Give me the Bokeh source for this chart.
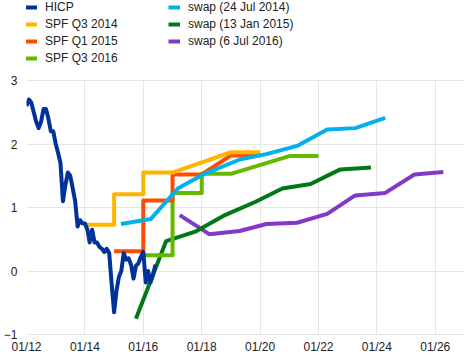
import pandas as pd
from bokeh.plotting import figure
from bokeh.models import Legend, LegendItem, FixedTicker, DatetimeTickFormatter, Range1d
from bokeh.embed import file_html
from bokeh.resources import INLINE

# ---------------- data ----------------
hicp_start = "2012-01-01"
hicp_values = [2.6, 2.7, 2.65, 2.5, 2.35, 2.25, 2.35, 2.55, 2.55, 2.4, 2.2, 2.2,
               2.0, 1.85, 1.7, 1.1, 1.35, 1.55, 1.5, 1.3, 1.1, 0.7, 0.8, 0.75,
               0.75, 0.65, 0.45, 0.65, 0.45, 0.45, 0.38, 0.35, 0.3, 0.35, 0.28, -0.2,
               -0.65, -0.3, -0.1, 0.0, 0.28, 0.18, 0.2, 0.1, -0.12, 0.08, 0.12, 0.22,
               0.3, -0.18, 0.0, -0.18, -0.06, 0.1]

spf_q3_2014_dates = ["2014-01-01", "2015-01-01", "2015-01-01", "2016-01-01",
                     "2016-01-01", "2017-01-01", "2019-01-01", "2020-01-01"]
spf_q3_2014_values = [0.73, 0.73, 1.21, 1.21, 1.55, 1.55, 1.87, 1.87]

spf_q1_2015_dates = ["2015-01-01", "2016-01-01", "2016-01-01", "2017-01-01",
                     "2017-01-01", "2018-01-01", "2019-01-01", "2020-01-01"]
spf_q1_2015_values = [0.31, 0.31, 1.11, 1.11, 1.52, 1.52, 1.82, 1.82]

spf_q3_2016_dates = ["2016-01-01", "2017-01-01", "2017-01-01", "2018-01-01",
                     "2018-01-01", "2019-01-01", "2021-01-01", "2022-01-01"]
spf_q3_2016_values = [0.25, 0.25, 1.23, 1.23, 1.53, 1.53, 1.81, 1.81]

swap_2014_dates = ["2015-03-28", "2016-04-05", "2017-03-08", "2018-02-05", "2019-05-01",
                   "2020-03-20", "2021-04-08", "2022-04-20", "2023-04-05", "2024-04-15"]
swap_2014_values = [0.74, 0.82, 1.3, 1.53, 1.76, 1.84, 1.97, 2.23, 2.25, 2.41]

swap_2015_dates = ["2015-10-01", "2016-10-12", "2017-10-12", "2018-10-19", "2019-11-07",
                   "2020-10-05", "2021-09-24", "2022-10-01", "2023-10-19"]
swap_2015_values = [-0.75, 0.47, 0.62, 0.88, 1.09, 1.3, 1.37, 1.6, 1.63]

swap_2016_dates = ["2017-04-01", "2018-04-05", "2019-04-20", "2020-03-20", "2021-04-08",
                   "2022-04-20", "2023-04-05", "2024-04-15", "2025-04-15", "2026-04-12"]
swap_2016_values = [0.88, 0.58, 0.63, 0.74, 0.76, 0.9, 1.19, 1.23, 1.52, 1.56]

tick_years = [2012, 2014, 2016, 2018, 2020, 2022, 2024, 2026]
y_ticks = [-1, 0, 1, 2, 3]

colors = {
    "HICP": "#003299",
    "SPF Q3 2014": "#ffb400",
    "SPF Q1 2015": "#ff4b00",
    "SPF Q3 2016": "#65b800",
    "swap (24 Jul 2014)": "#00b1ea",
    "swap (13 Jan 2015)": "#007816",
    "swap (6 Jul 2016)": "#8139c6",
}

# ---------------- figure ----------------
FONT = "Liberation Sans"
W, H = 466, 356
TOP_PX, BOTTOM_PX = 80, 334          # where y = 3 and y = -1 sit
px_per_unit = (BOTTOM_PX - TOP_PX) / (y_ticks[-1] - y_ticks[0])
y_end = y_ticks[0] + BOTTOM_PX / px_per_unit   # frame reaches top of figure (room for legend)

p = figure(width=W, height=H, output_backend="svg", toolbar_location=None,
           x_axis_type="datetime",
           x_range=Range1d(pd.Timestamp("2012-01-01"), pd.Timestamp("2026-12-20")),
           y_range=Range1d(y_ticks[0], y_end),
           min_border_left=24, min_border_right=3, min_border_top=0,
           min_border_bottom=H - BOTTOM_PX)
p.outline_line_color = None
p.background_fill_color = "white"
p.border_fill_color = "white"

hicp_dates = pd.date_range(hicp_start, periods=len(hicp_values), freq="MS")

series = [
    ("swap (6 Jul 2016)", pd.to_datetime(swap_2016_dates), swap_2016_values),
    ("swap (13 Jan 2015)", pd.to_datetime(swap_2015_dates), swap_2015_values),
    ("SPF Q3 2016", pd.to_datetime(spf_q3_2016_dates), spf_q3_2016_values),
    ("SPF Q1 2015", pd.to_datetime(spf_q1_2015_dates), spf_q1_2015_values),
    ("SPF Q3 2014", pd.to_datetime(spf_q3_2014_dates), spf_q3_2014_values),
    ("swap (24 Jul 2014)", pd.to_datetime(swap_2014_dates), swap_2014_values),
    ("HICP", hicp_dates, hicp_values),
]
renderers = {}
for name, xs, ys in series:
    renderers[name] = p.line(list(xs), ys, line_color=colors[name], line_width=4,
                             line_join="round")

# axes
tick_ms = [pd.Timestamp(f"{y}-01-01").value // 10**6 for y in tick_years]
p.xaxis.ticker = FixedTicker(ticks=tick_ms)
fmt = "%m/%y"
p.xaxis.formatter = DatetimeTickFormatter(years=fmt, months=fmt, days=fmt, hours=fmt,
                                          minutes=fmt, seconds=fmt, milliseconds=fmt,
                                          microseconds=fmt, minsec=fmt, hourmin=fmt)
p.yaxis.ticker = FixedTicker(ticks=y_ticks)
for ax in (p.xaxis[0], p.yaxis[0]):
    ax.major_label_text_font = FONT
    ax.major_label_text_font_size = "12px"
    ax.major_label_text_color = "#222222"
    ax.major_tick_line_color = None
    ax.minor_tick_line_color = None
    ax.major_tick_out = 0
    ax.major_tick_in = 0
p.xaxis.axis_line_color = "#e4e4e4"
p.yaxis.axis_line_color = None
p.xaxis.major_label_standoff = 5
p.yaxis.major_label_standoff = 9

p.xgrid.ticker = FixedTicker(ticks=tick_ms)
p.ygrid.ticker = FixedTicker(ticks=y_ticks)
p.grid.grid_line_color = "#e6e6e6"
p.grid.grid_line_width = 1
try:
    p.xgrid.cross_bounds = (y_ticks[0], y_ticks[-1])
except Exception:
    p.xgrid.visible = False
    p.segment(x0=[pd.Timestamp(f"{y}-01-01") for y in tick_years],
              x1=[pd.Timestamp(f"{y}-01-01") for y in tick_years],
              y0=[y_ticks[0]] * len(tick_years), y1=[y_ticks[-1]] * len(tick_years),
              line_color="#e6e6e6", line_width=1, level="underlay")

# legends (location = bottom-left corner, offset from frame's bottom-left)
def make_legend(names, vx, vy):
    lg = Legend(items=[LegendItem(label=n, renderers=[renderers[n]]) for n in names],
                location=(vx, vy), orientation="vertical",
                label_text_font=FONT, label_text_font_size="12px",
                label_text_color="#222222",
                glyph_width=12, glyph_height=12, label_height=12, label_standoff=8,
                spacing=3, padding=0, margin=0,
                border_line_color=None, background_fill_alpha=0)
    p.add_layout(lg, "center")

make_legend(["HICP", "SPF Q3 2014", "SPF Q1 2015", "SPF Q3 2016"], -1, 269)
make_legend(["swap (24 Jul 2014)", "swap (13 Jan 2015)", "swap (6 Jul 2016)"], 142, 286)

open("out.html", "w").write(file_html(p, INLINE))
